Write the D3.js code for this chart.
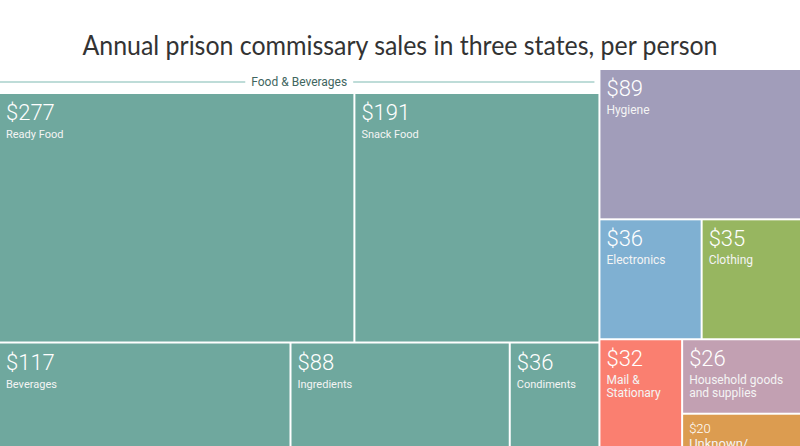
<!DOCTYPE html>
<html>
<head>
<meta charset="utf-8">
<script src="https://cdn.jsdelivr.net/npm/d3@7"></script>
<style>
  body { margin: 0; background: #fff; overflow: hidden; }
  #chart svg { display: block; }
</style>
</head>
<body>
<div id="chart"></div>
<script>
// data
const foodItems = ["Ready Food", "Snack Food", "Beverages", "Ingredients", "Condiments"];
const foodValues = [277, 191, 117, 88, 36];
const otherItems = ["Hygiene", "Electronics", "Clothing", "Mail & Stationary", "Household goods and supplies", "Unknown/ Other"];
const otherValues = [89, 36, 35, 32, 26, 20];
const otherColors = ["#a19dba", "#7fb0d2", "#97b660", "#fa7f70", "#c2a0b2", "#dc9c50"];
const foodColor = "#6fa89e";

const width = 800, height = 446;
const treeTop = 70, treeH = 400;

const svg = d3.select("#chart").append("svg")
  .attr("width", width).attr("height", height);

svg.append("text")
  .attr("x", width / 2).attr("y", 55)
  .attr("text-anchor", "middle")
  .attr("textLength", 635)
  .attr("lengthAdjust", "spacingAndGlyphs")
  .style("font-family", "Lato, 'Noto Sans', sans-serif")
  .style("font-size", "27px")
  .style("fill", "#333")
  .text("Annual prison commissary sales in three states, per person");

const data = {
  name: "root",
  children: [
    { name: "Food & Beverages", children: foodItems.map((n, i) => ({ name: n, value: foodValues[i] })) },
    ...otherItems.map((n, i) => ({ name: n, value: otherValues[i], color: otherColors[i] }))
  ]
};

// rows laid across the full width, squarified row by row
function rowTile(node, x0, y0, x1, y1) {
  const kids = node.children, w = x1 - x0;
  let remaining = node.value, y = y0, i = 0;
  while (i < kids.length) {
    let sum = 0, worst = Infinity, j = i;
    for (; j < kids.length; j++) {
      const s = sum + kids[j].value;
      const h = s / remaining * (y1 - y);
      let wr = 0;
      for (let k = i; k <= j; k++) {
        const cw = kids[k].value / s * w;
        wr = Math.max(wr, cw / h, h / cw);
      }
      if (wr > worst) break;
      worst = wr; sum = s;
    }
    const h = sum / remaining * (y1 - y);
    d3.treemapDice({ value: sum, children: kids.slice(i, j) }, x0, y, x1, y + h);
    y += h; remaining -= sum; i = j;
  }
}

const squarify = d3.treemapSquarify.ratio(1);

const root = d3.hierarchy(data).sum(d => d.value || 0)
  .sort((a, b) => b.value - a.value);

d3.treemap()
  .size([width, treeH])
  .paddingTop(d => d.depth === 1 ? 24 : 0)
  .paddingInner(2)
  .tile((node, x0, y0, x1, y1) => node.depth === 0 ? squarify(node, x0, y0, x1, y1) : rowTile(node, x0, y0, x1, y1))
  (root);

const g = svg.append("g").attr("transform", `translate(0,${treeTop})`);

// group header
root.children.filter(d => d.children).forEach(grp => {
  const cx = (grp.x0 + grp.x1) / 2;
  const ly = grp.y0 + 12;
  const label = g.append("text")
    .attr("x", cx).attr("y", ly + 4)
    .attr("text-anchor", "middle")
    .style("font-family", "Roboto, sans-serif")
    .style("font-size", "12px")
    .style("fill", "#3f6660")
    .text(grp.data.name);
  const tw = label.node().getComputedTextLength();
  g.append("line").attr("x1", grp.x0).attr("x2", cx - tw / 2 - 6)
    .attr("y1", ly).attr("y2", ly).attr("stroke", "#a9d0cb").attr("stroke-width", 1.5);
  g.append("line").attr("x1", cx + tw / 2 + 6).attr("x2", grp.x1 - 4)
    .attr("y1", ly).attr("y2", ly).attr("stroke", "#a9d0cb").attr("stroke-width", 1.5);
});

const leaves = g.selectAll("g.leaf").data(root.leaves()).join("g")
  .attr("class", "leaf")
  .attr("transform", d => `translate(${d.x0},${d.y0})`);

leaves.append("rect")
  .attr("width", d => d.x1 - d.x0)
  .attr("height", d => d.y1 - d.y0)
  .attr("fill", d => d.data.color || foodColor);

leaves.each(function (d) {
  const cell = d3.select(this);
  const small = (d.y1 - d.y0) < 60;
  const w = d.x1 - d.x0 - 10;
  cell.append("text")
    .attr("x", 6).attr("y", small ? 18 : 26)
    .style("font-family", "Roboto, sans-serif")
    .style("font-weight", 300)
    .style("font-size", small ? "13px" : "22px")
    .style("fill", "#fff")
    .text("$" + d.value);
  const t = cell.append("text")
    .attr("x", 6).attr("y", small ? 33 : 44)
    .style("font-family", "Roboto, sans-serif")
    .style("font-size", small ? "13px" : (d.data.color ? "12px" : "11px"))
    .style("fill", "#f4f4f4");
  // simple word wrap, a word ending in "/" forces a break
  const words = d.data.name.split(" ");
  let line = [], tspan = t.append("tspan").attr("x", 6);
  words.forEach((wd, k) => {
    line.push(wd);
    tspan.text(line.join(" "));
    const prevSlash = k > 0 && words[k - 1].endsWith("/");
    if ((tspan.node().getComputedTextLength() > w || prevSlash) && line.length > 1) {
      line.pop();
      tspan.text(line.join(" "));
      line = [wd];
      tspan = t.append("tspan").attr("x", 6).attr("dy", "1.1em").text(wd);
    }
  });
});
</script>
</body>
</html>
